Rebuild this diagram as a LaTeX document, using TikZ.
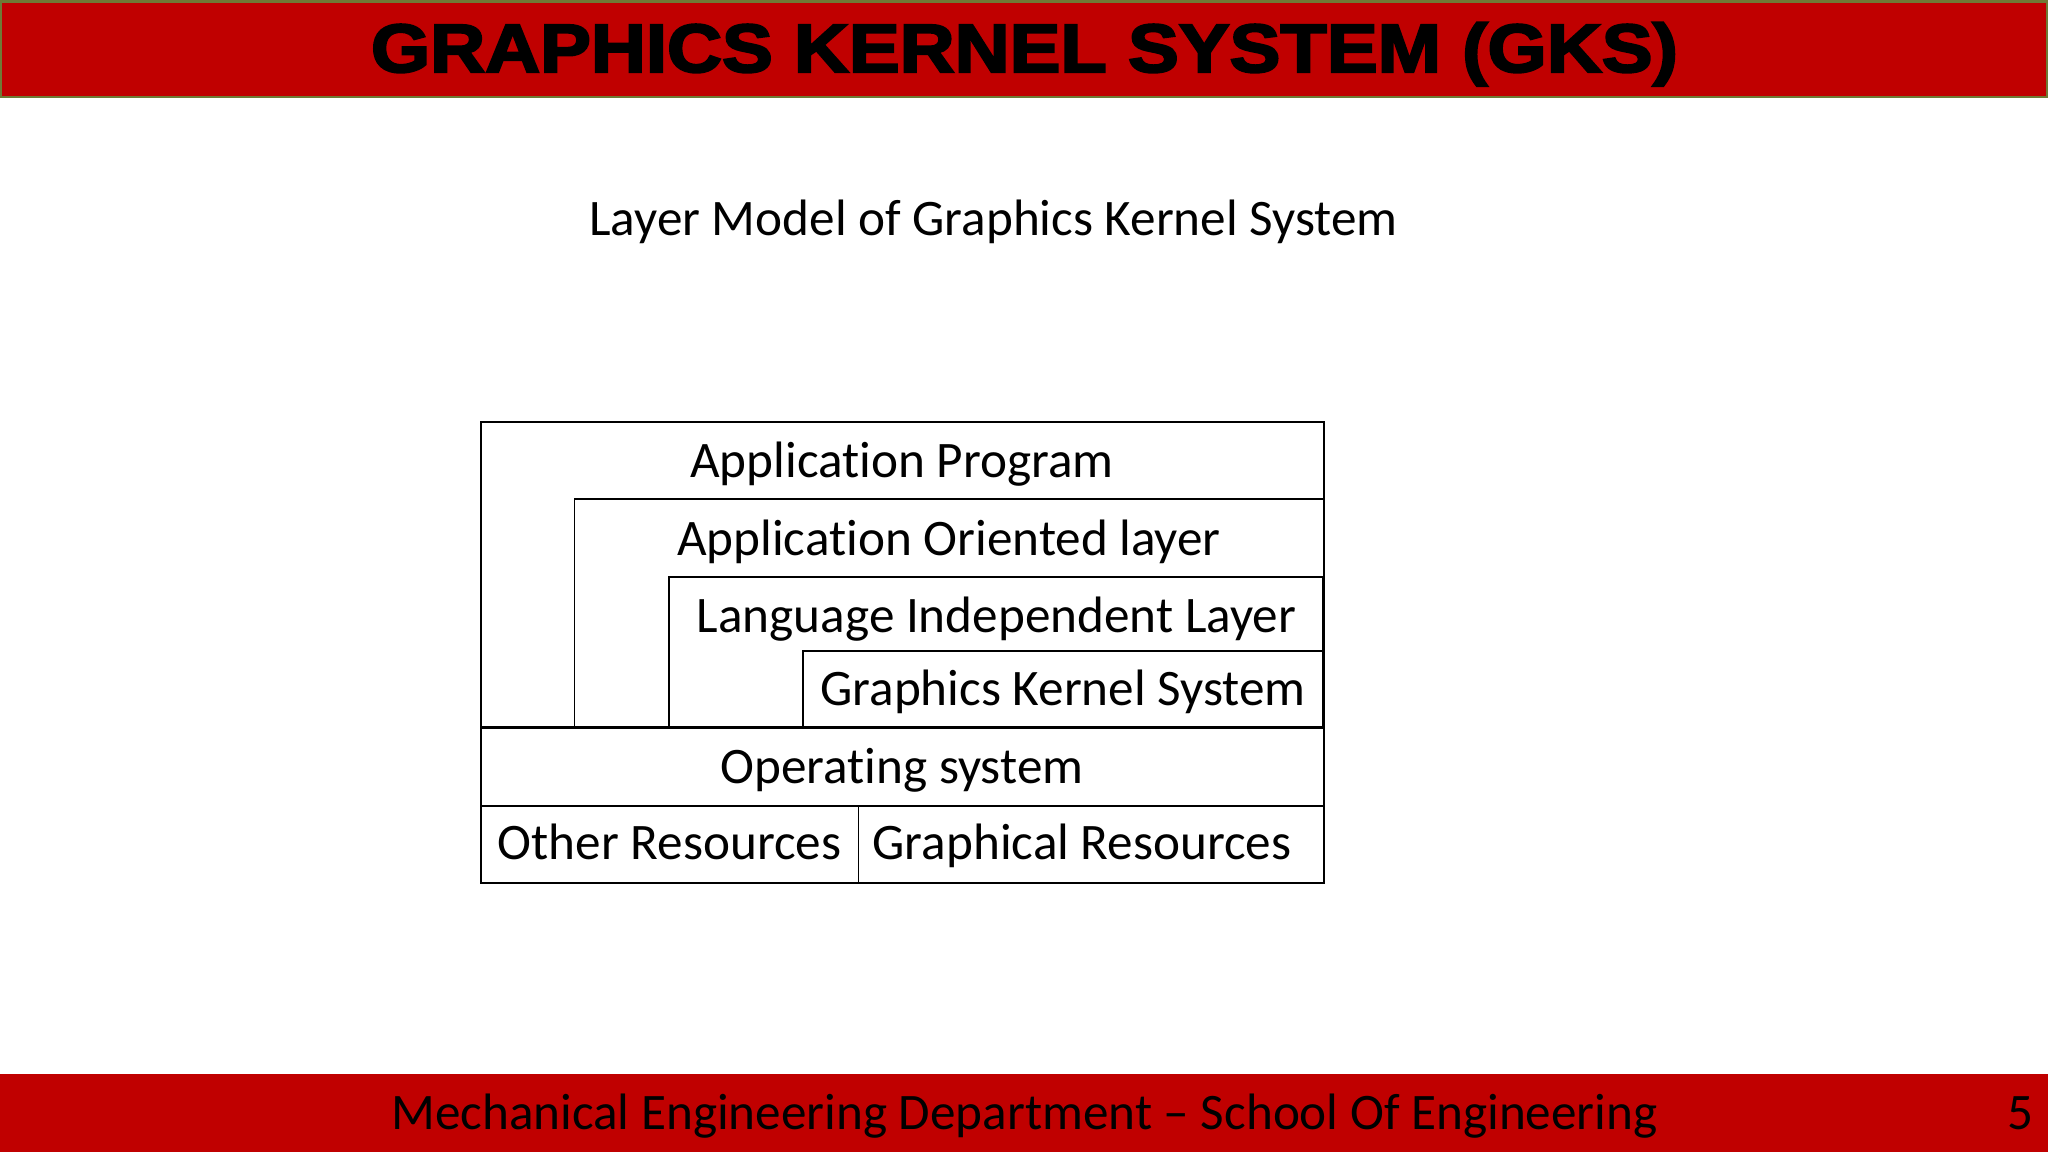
\documentclass[tikz,border=0pt]{standalone}
\usepackage{fontspec}
\setmainfont{Carlito}[Ligatures={NoCommon}]
\newfontfamily\titlefont[FakeBold=3]{Liberation Sans Bold}
\definecolor{bandred}{HTML}{C00000}
\definecolor{bandedge}{HTML}{6F7A35}
\begin{document}
\begin{tikzpicture}[x=1pt,y=-1pt,
  layerbox/.style={draw=black,line width=1.8pt},
  lbl/.style={anchor=base,inner sep=0pt,font=\fontsize{51.2}{55}\selectfont},
  biglbl/.style={anchor=base,inner sep=0pt,font=\fontsize{51.2}{55}\selectfont}]
\useasboundingbox (0,0) rectangle (2048,1152);
\fill[white] (0,0) rectangle (2048,1152);
% top banner
\filldraw[fill=bandred,draw=bandedge,line width=2.5pt] (1,1.5) rectangle (2047,97);
\node[anchor=base,inner sep=0pt,xscale=1.113,font=\titlefont\fontsize{68.4}{70}\selectfont] (title) at (1024.5,72) {GRAPHICS KERNEL SYSTEM (GKS)};
% bottom banner
\fill[bandred] (0,1074) rectangle (2048,1152);
\node[biglbl] (footer) at (1024.5,1129) {Mechanical Engineering Department – School Of Engineering};
\node[biglbl] (pagenum) at (2020,1129) {5};
% subtitle
\node[biglbl] (subtitle) at (993.5,235) {Layer Model of Graphics Kernel System};
% layers
\draw[layerbox] (481,422) rectangle (1324,727);
\draw[layerbox] (574.5,499) rectangle (1324,727);
\draw[layerbox] (669,577) rectangle (1322.5,727);
\draw[layerbox] (803,651) rectangle (1324,727);
\draw[layerbox] (481,728.5) rectangle (1324,806);
\draw[layerbox] (481,806) rectangle (1324,883);
\draw[layerbox] (858.5,806) -- (858.5,883);
\node[lbl] (ap) at (902,477) {Application Program};
\node[lbl] (aol) at (949,555) {Application Oriented layer};
\node[lbl] (lil) at (996.5,632) {Language Independent Layer};
\node[lbl] (gks) at (1063,705) {Graphics Kernel System};
\node[lbl] (os) at (902,783) {Operating system};
\node[lbl] (other) at (669.6,859) {Other Resources};
\node[lbl] (graph) at (1082,859) {Graphical Resources};
\end{tikzpicture}
\end{document}
